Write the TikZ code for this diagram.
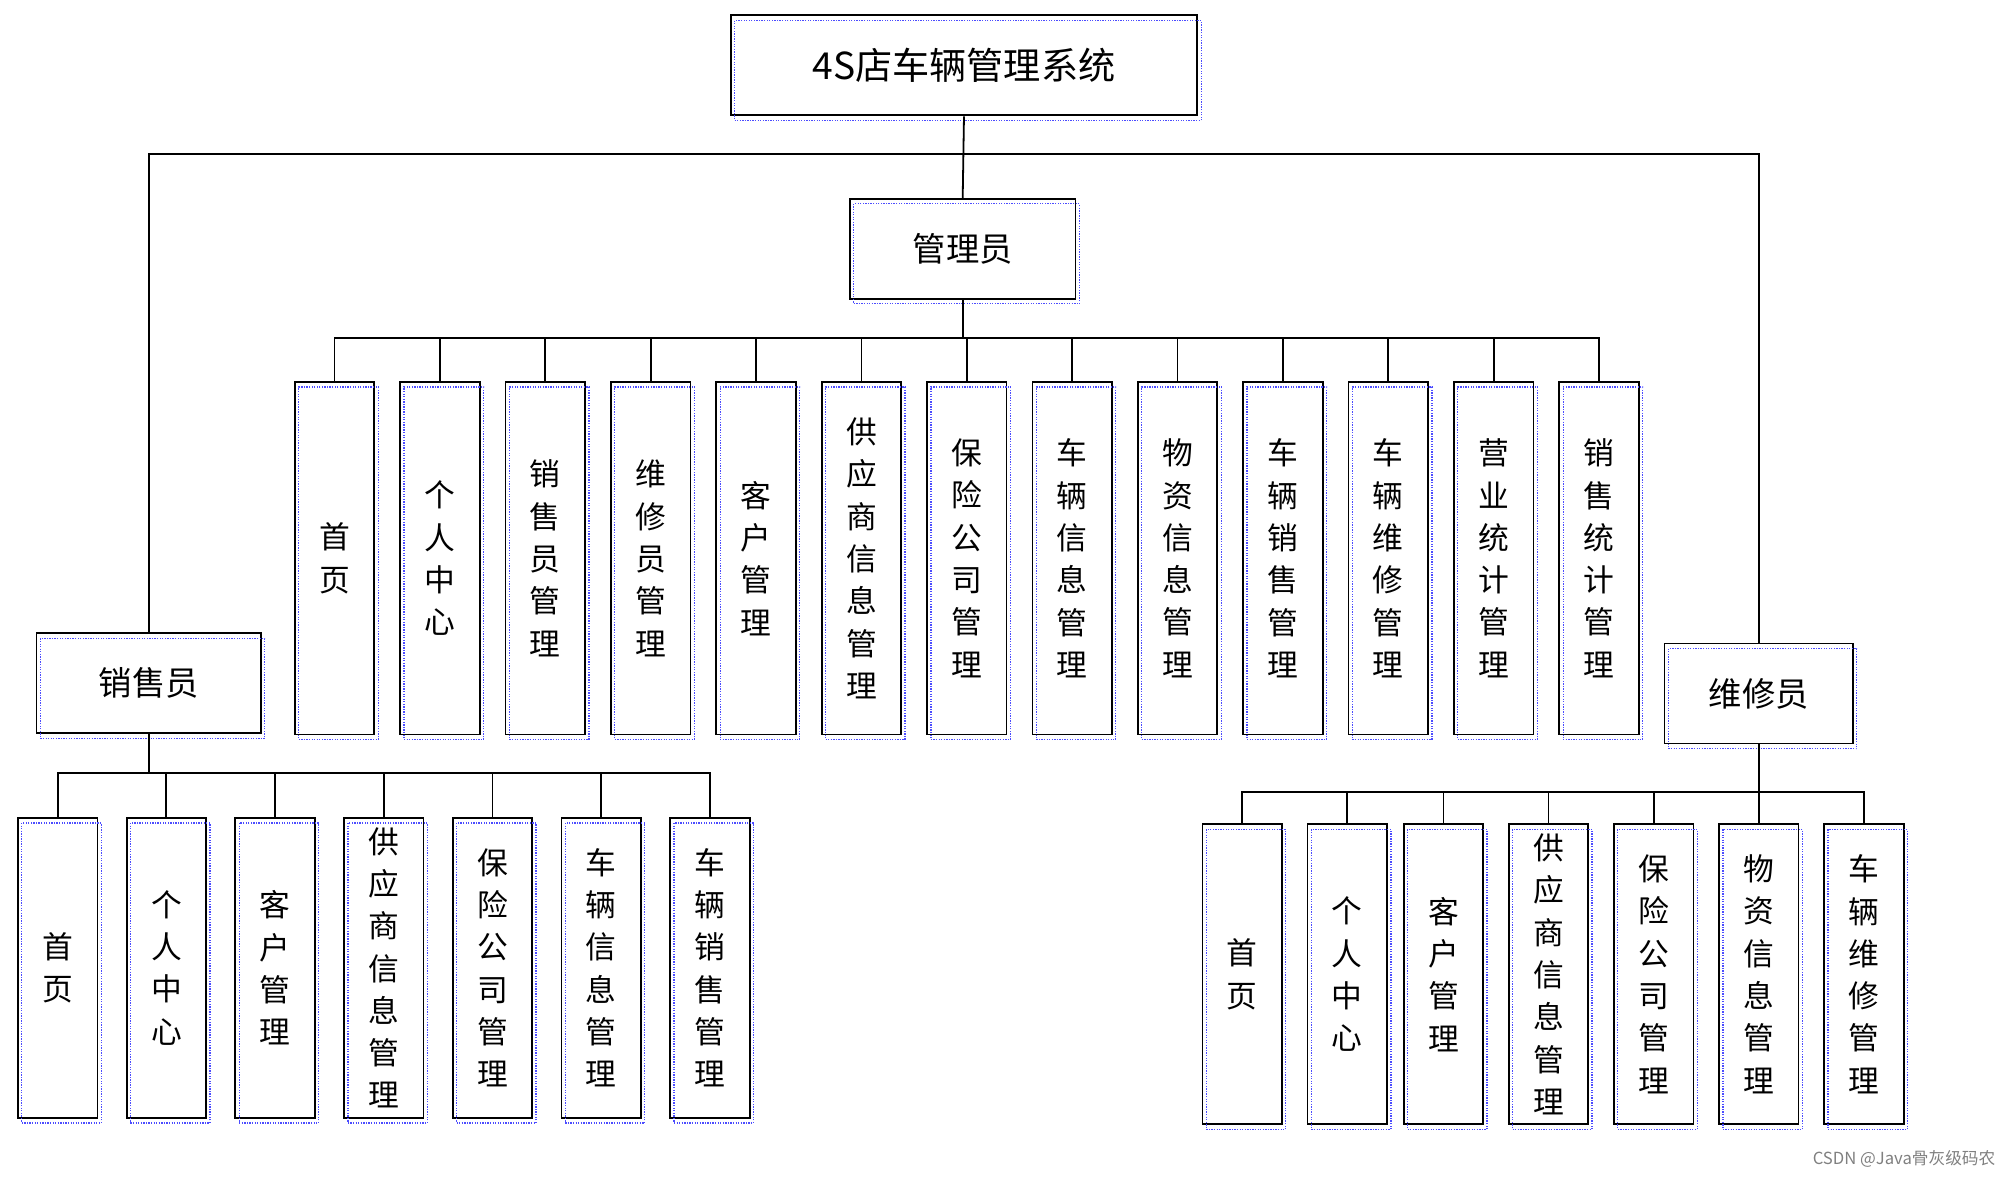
\documentclass[tikz,border=0pt]{standalone}
\usepackage{fontspec}
\setmainfont{Noto Sans CJK SC}
\begin{document}
\begin{tikzpicture}[x=1pt,y=-1pt,
  box/.style={draw,line width=1.4pt,align=center,inner sep=0pt,font=\fontsize{26}{30}\selectfont,
    postaction={draw=blue!70,densely dotted,line width=1pt,transform canvas={shift={(3pt,-4pt)}}}},
  leaf/.style={box,minimum width=62pt,font=\fontsize{24}{33}\selectfont},
  wire/.style={line width=1.4pt}]
\useasboundingbox (0,0) rectangle (1568,918);
\node[box,minimum width=364pt,minimum height=78pt,font=\fontsize{29}{33}\selectfont] (root) at (752,51) {4S店车辆管理系统};
\node[box,minimum width=176pt,minimum height=78pt] (adm) at (751,194) {管理员};
\node[box,minimum width=175pt,minimum height=78pt] (sal) at (116,533) {销售员};
\node[box,minimum width=147pt,minimum height=78pt] (rep) at (1372,541) {维修员};
\coordinate (j) at (752,120);
\draw[wire] (root.south) -- (adm.north);
\draw[wire] (j) -| (sal.north);
\draw[wire] (j) -| (rep.north);
% admin leaves
\foreach \i/\t in {0/{首\\页},1/{个\\人\\中\\心},2/{销\\售\\员\\管\\理},3/{维\\修\\员\\管\\理},4/{客\\户\\管\\理},5/{供\\应\\商\\信\\息\\管\\理},6/{保\\险\\公\\司\\管\\理},7/{车\\辆\\信\\息\\管\\理},8/{物\\资\\信\\息\\管\\理},9/{车\\辆\\销\\售\\管\\理},10/{车\\辆\\维\\修\\管\\理},11/{营\\业\\统\\计\\管\\理},12/{销\\售\\统\\计\\管\\理}}{
  \node[leaf,minimum height=275pt] (a\i) at (261+82.2*\i,435.5) {\t};
  \draw[wire] (adm.south) -- ++(0,30) -| (a\i.north);
}
% sales leaves
\foreach \i/\t in {0/{首\\页},1/{个\\人\\中\\心},2/{客\\户\\管\\理},3/{供\\应\\商\\信\\息\\管\\理},4/{保\\险\\公\\司\\管\\理},5/{车\\辆\\信\\息\\管\\理},6/{车\\辆\\销\\售\\管\\理}}{
  \node[leaf,minimum height=234pt] (s\i) at (45+84.8*\i,755) {\t};
  \draw[wire] (sal.south) -- ++(0,30) -| (s\i.north);
}
% repair leaves
\foreach \x/\i/\t in {969/0/{首\\页},1051/1/{个\\人\\中\\心},1126/2/{客\\户\\管\\理},1208/3/{供\\应\\商\\信\\息\\管\\理},1290/4/{保\\险\\公\\司\\管\\理},1372/5/{物\\资\\信\\息\\管\\理},1454/6/{车\\辆\\维\\修\\管\\理}}{
  \node[leaf,minimum height=234pt] (r\i) at (\x,760) {\t};
  \draw[wire] (rep.south) -- ++(0,37) -| (r\i.north);
}
\node[anchor=south east,text=gray,font=\fontsize{13}{15}\selectfont] (wm) at (1560,914) {CSDN @Java骨灰级码农};
\end{tikzpicture}
\end{document}
